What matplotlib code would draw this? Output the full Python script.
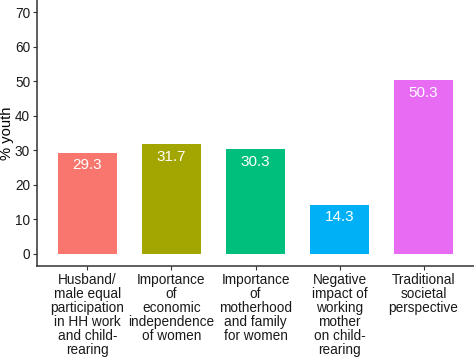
import matplotlib.pyplot as plt

categories = [
    "Husband/\nmale equal\nparticipation\nin HH work\nand child-\nrearing",
    "Importance\nof\neconomic\nindependence\nof women",
    "Importance\nof\nmotherhood\nand family\nfor women",
    "Negative\nimpact of\nworking\nmother\non child-\nrearing",
    "Traditional\nsocietal\nperspective",
]
values = [29.3, 31.7, 30.3, 14.3, 50.3]
colors = ["#F8766D", "#A3A500", "#00BF7D", "#00B0F6", "#E76BF3"]
yticks = [0, 10, 20, 30, 40, 50, 60, 70]

plt.rcParams['font.family'] = ['Liberation Sans', 'DejaVu Sans']

fig = plt.figure(figsize=(4.74, 3.59), dpi=100)
ax = fig.add_axes([37 / 474, 93 / 359, 1 - 37 / 474, 266 / 359])

xs = list(range(1, len(values) + 1))
ax.bar(xs, values, width=0.7, color=colors)
for x, v in zip(xs, values):
    ax.annotate(f"{v}", (x, v), xytext=(0, -4), textcoords="offset points",
                ha="center", va="top", color="white", fontsize=11)

ax.set_xlim(0.4, 5.6)
ax.set_ylim(-3.5, 73.5)
ax.set_yticks(yticks)
ax.set_xticks(xs)
ax.set_xticklabels(categories, fontsize=9.8, linespacing=1.0, color="#1a1a1a")
ax.tick_params(axis="y", labelsize=9.8, labelcolor="#1a1a1a", color="#333333",
               length=3, width=0.8, pad=2)
ax.tick_params(axis="x", color="#333333", length=3, width=0.8, pad=2)
ax.set_ylabel("% youth", fontsize=10.6, labelpad=0.5)

for side in ["top", "right"]:
    ax.spines[side].set_visible(False)
for side in ["left", "bottom"]:
    ax.spines[side].set_color("#333333")
    ax.spines[side].set_linewidth(1.1)

fig.savefig("out.png", dpi=100)
